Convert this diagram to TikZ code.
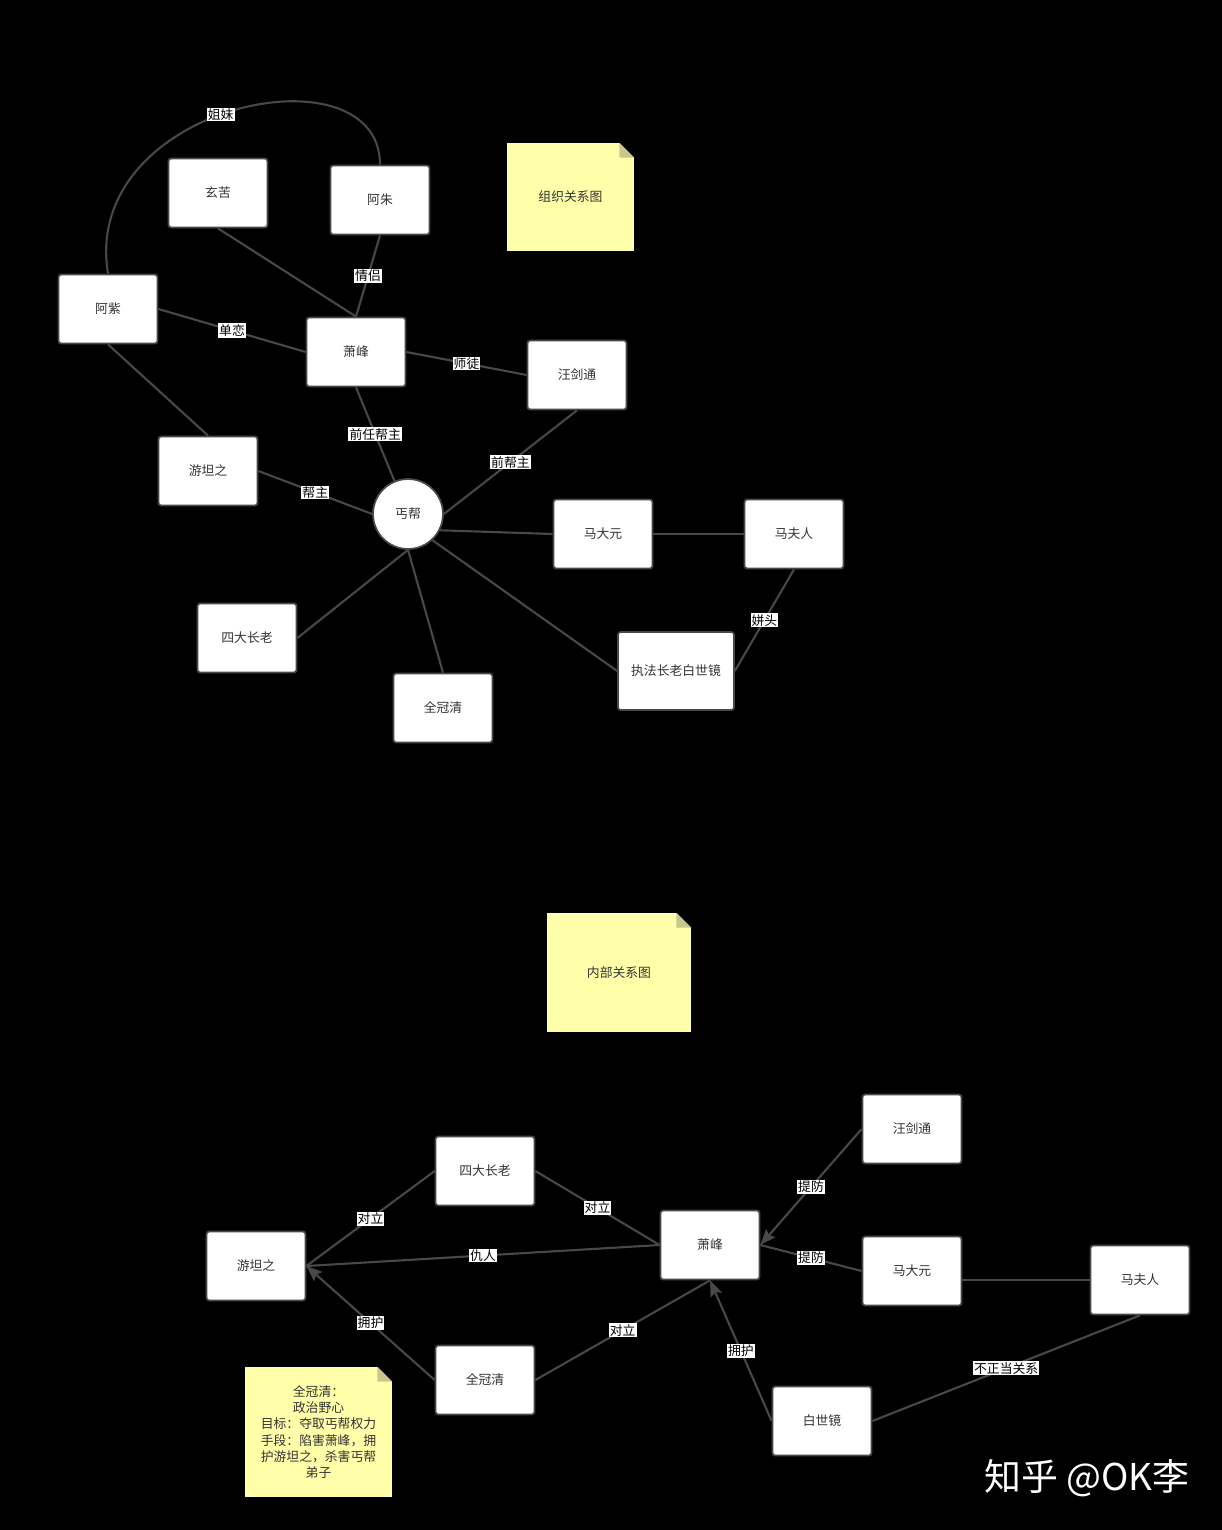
\documentclass[tikz,border=0pt]{standalone}
\usepackage{fontspec}
\setmainfont{Noto Sans CJK SC}
\usetikzlibrary{arrows.meta,positioning}
\definecolor{linegray}{HTML}{484848}
\definecolor{notebg}{HTML}{FFFFAA}
\definecolor{notefold}{HTML}{C8C88C}
\definecolor{txtgray}{HTML}{333333}
\tikzset{
    mybox/.style={draw=linegray,fill=white,line width=1pt,rounded corners=1.5pt,
                  minimum width=1.98cm,minimum height=1.38cm,text=txtgray},
    mycircle/.style={circle,draw=linegray,fill=white,line width=1pt,minimum size=1.4cm,text=txtgray},
    mynote/.style={fill=notebg,text=txtgray,inner sep=0pt},
    myedge/.style={line width=1.2pt,draw=linegray},
    myarrow/.style={myedge,-{Stealth[length=9pt,width=7pt,inset=1.5pt]}},
    mylabel/.style={fill=white,text=black,inner sep=0.6pt},
    every node/.style={font=\fontsize{7.3}{9.2}\selectfont}
}

\begin{document}
\begin{tikzpicture}[x=0.02cm,y=-0.02cm]
  % 背景
  \fill[black] (0,0) rectangle (1222,1530);

  % ===== 组织关系图 =====
  \node[mynote,minimum width=2.54cm,minimum height=2.16cm] (note1) at (570.5,197) {组织关系图};
  \fill[black] (note1.north east) -- ++(-15,0) -- ++(15,15) -- cycle;
  \fill[notefold] (note1.north east) ++(-15,0) -- ++(15,15) -- ++(-15,0) -- cycle;

  \node[mybox] (xk)  at (218,193) {玄苦};
  \node[mybox] (az)  at (380,200) {阿朱};
  \node[mybox] (azi) at (108,309) {阿紫};
  \node[mybox] (xf)  at (356,352) {萧峰};
  \node[mybox] (wjt) at (577,375) {汪剑通};
  \node[mybox] (ytz) at (208,471) {游坦之};
  \node[mycircle] (gb) at (408,514) {丐帮};
  \node[mybox] (mdy) at (603,534) {马大元};
  \node[mybox] (mfr) at (794,534) {马夫人};
  \node[mybox] (sdz) at (247,638) {四大长老};
  \node[mybox] (qgq) at (443,708) {全冠清};
  \node[mybox,minimum width=2.32cm,minimum height=1.56cm] (bsj) at (676,671) {执法长老白世镜};

  \draw[myedge] (azi.north) .. controls (80,104) and (380,44) .. node[mylabel,pos=0.47]{姐妹} (az.north);
  \draw[myedge] (xk.south) -- (xf.north);
  \draw[myedge] (az.south) -- node[mylabel]{情侣} (xf.north);
  \draw[myedge] (azi.east) -- node[mylabel]{单恋} (xf.west);
  \draw[myedge] (xf.east) -- node[mylabel]{师徒} (wjt.west);
  \draw[myedge] (xf.south) -- node[mylabel]{前任帮主} (gb);
  \draw[myedge] (wjt.south) -- node[mylabel]{前帮主} (gb.east);
  \draw[myedge] (azi.south) -- (ytz.north);
  \draw[myedge] (ytz.east) -- node[mylabel]{帮主} (gb.west);
  \draw[myedge] (gb.-27) -- (mdy.west);
  \draw[myedge] (mdy.east) -- (mfr.west);
  \draw[myedge] (mfr.south) -- node[mylabel]{姘头} (bsj.east);
  \draw[myedge] (gb.south) -- (sdz.east);
  \draw[myedge] (gb.south) -- (qgq.north);
  \draw[myedge] (gb.-47) -- (bsj.west);

  % ===== 内部关系图 =====
  \node[mynote,minimum width=2.88cm,minimum height=2.38cm] (note2) at (619,972.5) {内部关系图};
  \fill[black] (note2.north east) -- ++(-15,0) -- ++(15,15) -- cycle;
  \fill[notefold] (note2.north east) ++(-15,0) -- ++(15,15) -- ++(-15,0) -- cycle;

  \node[mybox] (sdz2) at (485,1171) {四大长老};
  \node[mybox] (ytz2) at (256,1266) {游坦之};
  \node[mybox] (xf2)  at (710,1245) {萧峰};
  \node[mybox] (wjt2) at (912,1129) {汪剑通};
  \node[mybox] (mdy2) at (912,1271) {马大元};
  \node[mybox] (mfr2) at (1140,1280) {马夫人};
  \node[mybox] (qgq2) at (485,1380) {全冠清};
  \node[mybox] (bsj2) at (822,1421) {白世镜};

  \draw[myedge] (ytz2.east) -- node[mylabel]{对立} (sdz2.west);
  \draw[myedge] (sdz2.east) -- node[mylabel]{对立} (xf2.west);
  \draw[myedge] (xf2.west) -- node[mylabel]{仇人} (ytz2.east);
  \draw[myarrow] (qgq2.west) -- node[mylabel]{拥护} (ytz2.east);
  \draw[myedge] (qgq2.east) -- node[mylabel]{对立} (xf2.south);
  \draw[myarrow] (wjt2.west) -- node[mylabel]{提防} (xf2.east);
  \draw[myedge] (xf2.east) -- node[mylabel]{提防} (mdy2.west);
  \draw[myedge] (mfr2.west) -- (mfr2.west -| mdy2.east);
  \draw[myarrow] (bsj2.west) -- node[mylabel]{拥护} (xf2.south);
  \draw[myedge] (bsj2.east) -- node[mylabel]{不正当关系} (mfr2.south);

  % 备注
  \node[mynote,minimum width=2.94cm,minimum height=2.6cm,align=center] (note3) at (318.5,1432)
    {全冠清：\\政治野心\\目标：夺取丐帮权力\\手段：陷害萧峰，拥\\护游坦之，杀害丐帮\\弟子};
  \fill[black] (note3.north east) -- ++(-15,0) -- ++(15,15) -- cycle;
  \fill[notefold] (note3.north east) ++(-15,0) -- ++(15,15) -- ++(-15,0) -- cycle;

  % 水印
  \node[text=white,font=\fontsize{21}{25}\selectfont] (wm) at (1087,1478) {知乎 @OK李};
\end{tikzpicture}
\end{document}
